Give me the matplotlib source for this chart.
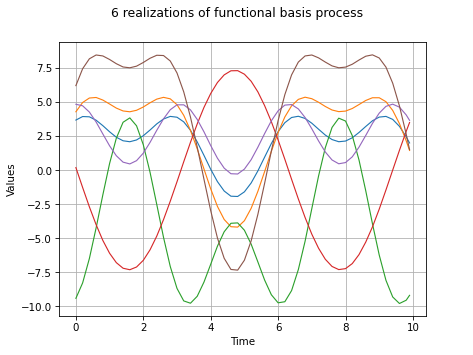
import matplotlib
matplotlib.use("Agg")
import matplotlib.pyplot as plt

# time grid (0 .. 9.9)
time = [0.0, 0.2, 0.4, 0.6, 0.8, 1.0, 1.2, 1.4, 1.6, 1.8,
        2.0, 2.2, 2.4, 2.6, 2.8, 3.0, 3.2, 3.4, 3.6, 3.8,
        4.0, 4.2, 4.4, 4.6, 4.8, 5.0, 5.2, 5.4, 5.6, 5.8,
        6.0, 6.2, 6.4, 6.6, 6.8, 7.0, 7.2, 7.4, 7.6, 7.8,
        8.0, 8.2, 8.4, 8.6, 8.8, 9.0, 9.2, 9.4, 9.6, 9.8, 9.9]

# the six realizations, values estimated from the chart
real_1 = [3.69, 3.95, 3.93, 3.68, 3.28, 2.83, 2.43, 2.17, 2.10, 2.23,
          2.54, 2.96, 3.41, 3.77, 3.96, 3.90, 3.56, 2.94, 2.09, 1.10,
          0.08, -0.83, -1.52, -1.90, -1.92, -1.58, -0.93, -0.04, 0.97, 1.97,
          2.84, 3.50, 3.88, 3.97, 3.81, 3.46, 3.02, 2.59, 2.26, 2.10,
          2.15, 2.39, 2.78, 3.22, 3.64, 3.91, 3.96, 3.74, 3.23, 2.46, 2.01]
real_2 = [4.30, 4.98, 5.31, 5.35, 5.16, 4.87, 4.57, 4.36, 4.30, 4.41,
          4.65, 4.96, 5.23, 5.36, 5.25, 4.82, 4.04, 2.93, 1.58, 0.10,
          -1.36, -2.65, -3.61, -4.14, -4.17, -3.70, -2.79, -1.54, -0.09, 1.40,
          2.78, 3.92, 4.74, 5.21, 5.37, 5.26, 5.00, 4.69, 4.43, 4.31,
          4.35, 4.54, 4.83, 5.13, 5.33, 5.33, 5.04, 4.40, 3.43, 2.17, 1.46]
real_3 = [-9.40, -8.27, -6.48, -4.23, -1.80, 0.50, 2.36, 3.53, 3.85, 3.27,
          1.88, -0.14, -2.51, -4.92, -7.06, -8.67, -9.59, -9.76, -9.25, -8.21,
          -6.90, -5.57, -4.51, -3.89, -3.86, -4.40, -5.42, -6.73, -8.06, -9.14,
          -9.73, -9.65, -8.83, -7.29, -5.21, -2.81, -0.42, 1.66, 3.15, 3.83,
          3.62, 2.55, 0.76, -1.50, -3.93, -6.22, -8.08, -9.30, -9.78, -9.54, -9.18]
real_4 = [0.20, -1.26, -2.68, -3.99, -5.15, -6.09, -6.78, -7.19, -7.30, -7.10,
          -6.61, -5.84, -4.83, -3.62, -2.27, -0.84, 0.63, 2.06, 3.41, 4.62,
          5.64, 6.45, 7.01, 7.31, 7.32, 7.06, 6.54, 5.76, 4.75, 3.57,
          2.23, 0.81, -0.66, -2.10, -3.46, -4.69, -5.72, -6.53, -7.06, -7.29,
          -7.22, -6.85, -6.19, -5.27, -4.15, -2.85, -1.44, 0.02, 1.47, 2.86, 3.51]
real_5 = [4.85, 4.74, 4.28, 3.55, 2.67, 1.80, 1.07, 0.60, 0.47, 0.71,
          1.26, 2.05, 2.94, 3.78, 4.45, 4.81, 4.81, 4.44, 3.74, 2.83,
          1.82, 0.89, 0.16, -0.25, -0.27, 0.09, 0.78, 1.70, 2.70, 3.64,
          4.37, 4.79, 4.83, 4.51, 3.88, 3.05, 2.16, 1.35, 0.76, 0.48,
          0.57, 0.99, 1.70, 2.56, 3.45, 4.20, 4.70, 4.86, 4.64, 4.07, 3.67]
real_6 = [6.22, 7.46, 8.19, 8.47, 8.40, 8.14, 7.83, 7.59, 7.53, 7.65,
          7.92, 8.23, 8.45, 8.43, 8.03, 7.15, 5.76, 3.91, 1.71, -0.65,
          -2.96, -4.97, -6.46, -7.28, -7.33, -6.60, -5.18, -3.23, -0.95, 1.42,
          3.65, 5.56, 7.01, 7.95, 8.40, 8.47, 8.26, 7.95, 7.67, 7.53,
          7.58, 7.79, 8.10, 8.38, 8.48, 8.25, 7.58, 6.40, 4.73, 2.66, 1.52]

realizations = [real_1, real_2, real_3, real_4, real_5, real_6]

fig, ax = plt.subplots(figsize=(6.4, 4.8), dpi=74)
for values in realizations:
    ax.plot(time, values, linewidth=1.1)

fig.suptitle("6 realizations of functional basis process")
ax.set_xlabel("Time")
ax.set_ylabel("Values")
ax.grid(True)

fig.savefig("out.png", dpi=74)
